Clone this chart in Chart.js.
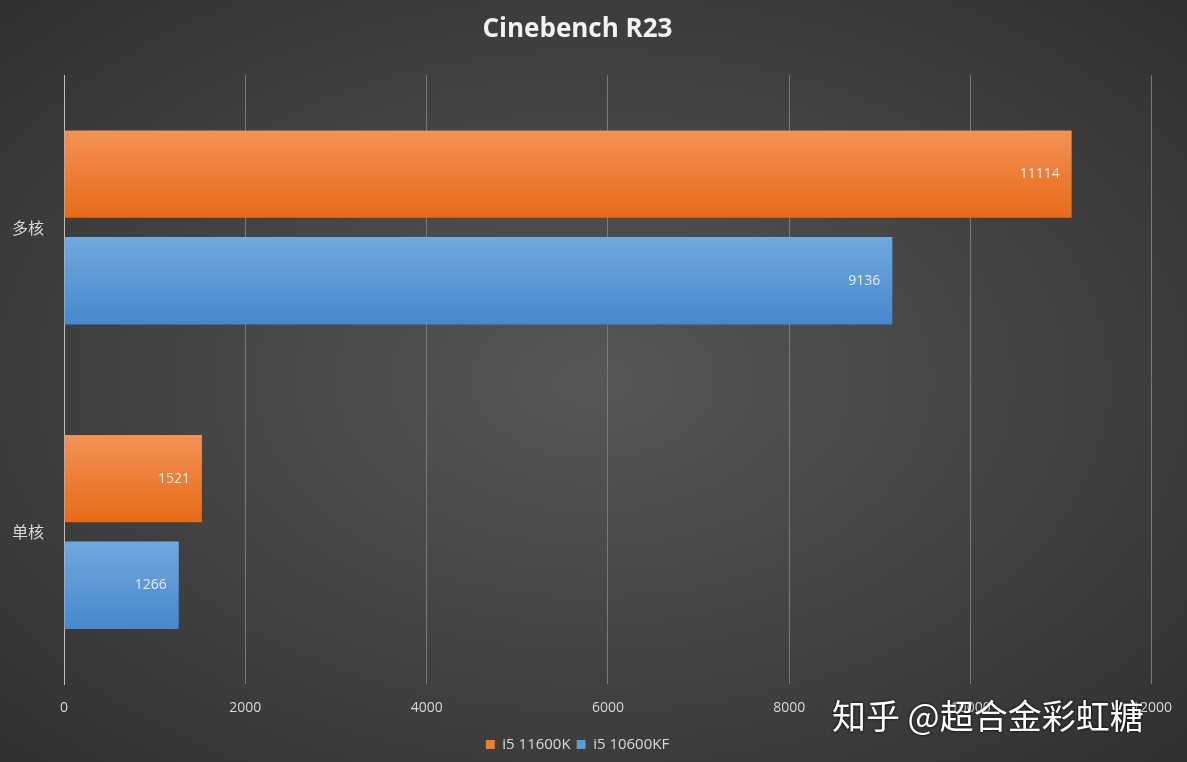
<!DOCTYPE html>
<html><head><meta charset="utf-8">
<script src="https://cdn.jsdelivr.net/npm/chart.js@4"></script>
<style>
html,body{margin:0;padding:0;width:1187px;height:762px;overflow:hidden;
background:radial-gradient(ellipse at center,#575757 0%,#3c3c3c 70%,#303030 100%);}
#c{position:absolute;left:0;top:0;}
#wm{position:absolute;left:832px;top:690px;font:34px "Noto Sans CJK SC",sans-serif;color:#fff;
text-shadow:0 0 3px #000;}
</style></head><body>
<canvas id="c" width="1187" height="762"></canvas>
<div id="wm">知乎 @超合金彩虹糖</div>
<script>
const categories = ['多核', '单核'];
const seriesNames = ['i5 11600K', 'i5 10600KF'];
const orangeVals = [11114, 1521];
const blueVals = [9136, 1266];
const gradStops = [['#f39256', '#e76a17'], ['#70a9df', '#4787cb']];

const gradPlugin = {
  id: 'grad',
  beforeDatasetsDraw(chart) {
    const ctx = chart.ctx;
    chart.data.datasets.forEach((ds, i) => {
      chart.getDatasetMeta(i).data.forEach((bar) => {
        const h = bar.height;
        const g = ctx.createLinearGradient(0, bar.y - h / 2, 0, bar.y + h / 2);
        g.addColorStop(0, gradStops[i][0]);
        g.addColorStop(1, gradStops[i][1]);
        bar.options = Object.assign({}, bar.options, { backgroundColor: g });
      });
    });
  }
};

const labelPlugin = {
  id: 'vals',
  afterDatasetsDraw(chart) {
    const ctx = chart.ctx;
    ctx.save();
    ctx.font = '14px "Open Sans", sans-serif';
    ctx.fillStyle = '#eaeaea';
    ctx.textAlign = 'right';
    ctx.textBaseline = 'middle';
    chart.data.datasets.forEach((ds, i) => {
      chart.getDatasetMeta(i).data.forEach((bar, j) => {
        ctx.fillText(ds.data[j], bar.x - 12, bar.y);
      });
    });
    ctx.restore();
  }
};

new Chart(document.getElementById('c'), {
  type: 'bar',
  data: {
    labels: categories,
    datasets: [
      { label: seriesNames[0], data: orangeVals, backgroundColor: '#ed7d31', borderWidth: 0 },
      { label: seriesNames[1], data: blueVals, backgroundColor: '#5b9bd5', borderWidth: 0 }
    ]
  },
  options: {
    indexAxis: 'y',
    responsive: false,
    animation: false,
    devicePixelRatio: 1,
    categoryPercentage: 0.7,
    barPercentage: 0.82,
    layout: { padding: { left: 0, right: 32, top: 0, bottom: 0 } },
    plugins: {
      title: { display: true, text: 'Cinebench R23', color: '#f2f2f2',
        font: { size: 26, weight: 'bold', family: '"Open Sans", sans-serif' },
        padding: { top: 14, bottom: 30 } },
      legend: { position: 'bottom',
        labels: { color: '#d9d9d9', boxWidth: 9, boxHeight: 9, padding: 6,
          font: { size: 15, family: '"Open Sans", sans-serif' } } },
      tooltip: { enabled: false }
    },
    scales: {
      x: { min: 0, max: 12000,
        ticks: { stepSize: 2000, color: '#d9d9d9', padding: 15,
          callback: (v) => String(v),
          font: { size: 14, family: '"Open Sans", sans-serif' } },
        grid: { color: '#7a7a7a', drawTicks: false },
        border: { display: false } },
      y: {
        ticks: { color: '#d9d9d9', padding: 12,
          font: { size: 16, family: '"Noto Sans CJK SC", sans-serif' } },
        grid: { display: false },
        border: { color: '#bfbfbf', width: 1 } }
    }
  },
  plugins: [gradPlugin, labelPlugin]
});
</script>
</body></html>
